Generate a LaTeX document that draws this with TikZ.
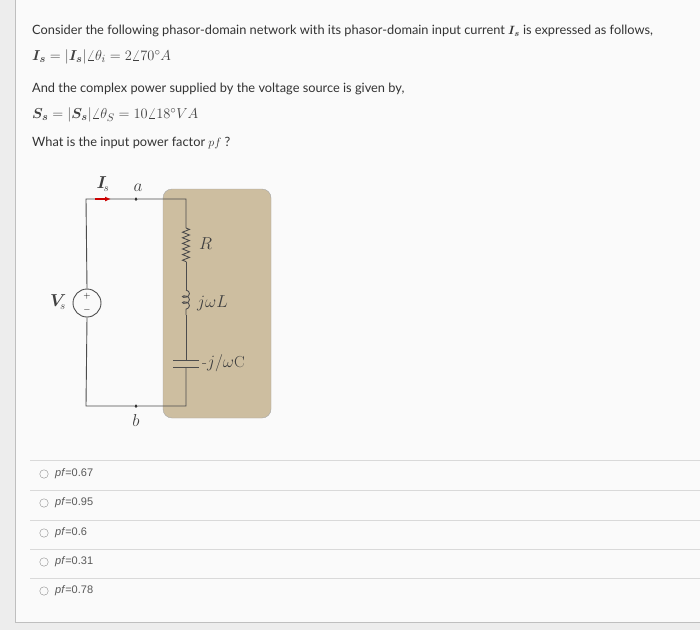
\documentclass[tikz,border=0pt]{standalone}
\usepackage{amsmath,bm}
\usepackage{fontspec}
\setsansfont{Lato}
\newfontfamily\optfont{Liberation Sans}
\usetikzlibrary{decorations.pathmorphing,arrows.meta}
\begin{document}
\begin{tikzpicture}[x=1pt,y=-1pt,
  prose/.style={anchor=west,inner sep=0,font=\sffamily\fontsize{12.8}{15}\selectfont,text=black!80},
  eq/.style={anchor=west,inner sep=0,font=\fontsize{15}{17}\selectfont,text=black!75},
  wire/.style={draw=black!70,line width=0.9pt},
  lbl/.style={inner sep=0,font=\fontsize{16}{18}\selectfont,text=black!75},
  opt/.style={anchor=west,inner sep=0,font=\optfont\fontsize{11}{13}\selectfont,text=black!65},
  sep/.style={draw=black!15,line width=0.6pt},
  dot/.style={circle,fill=black!80,inner sep=0,minimum size=3.5pt}]
\useasboundingbox (0,0) rectangle (700,630);
\fill[black!7] (0,0) rectangle (700,630);
\fill[black!2] (15,0) rectangle (700,622);
\draw[black!25] (15,0) -- (15,622) -- (700,622);
% prose
\node[prose] (t1) at (32,31) {Consider the following phasor-domain network with its phasor-domain input current $\bm{I_s}$ is expressed as follows,};
\node[eq] (t2) at (32,57) {$\bm{I_s} = |\bm{I_s}|\angle\theta_i = 2\angle 70^\circ A$};
\node[prose] (t3) at (32,89) {And the complex power supplied by the voltage source is given by,};
\node[eq] (t4) at (32,115) {$\bm{S_s} = |\bm{S_s}|\angle\theta_S = 10\angle 18^\circ V A$};
\node[prose] (t5) at (32,143) {What is the input power factor $pf$ ?};
% load box
\fill[rounded corners=9pt,fill={rgb,255:red,205;green,190;blue,160},draw=black!35] (163,189) rectangle (271,418);
% circuit
\coordinate (tl) at (86,199);
\coordinate (tr) at (186,199);
\coordinate (bl) at (86,406);
\coordinate (br) at (186,406);
\node[circle,draw=black!70,line width=0.9pt,minimum size=28pt,inner sep=0] (src) at (87,303) {};
\node[inner sep=0,font=\small] at (87,296) {$+$};
\node[inner sep=0,font=\small] at (87,310) {$-$};
\node[dot] (a) at (136,199) {};
\node[dot] (b) at (136,406) {};
\coordinate (r1) at (186,228);
\coordinate (r2) at (186,262);
\coordinate (l1) at (186,290);
\coordinate (l2) at (186,315);
\coordinate (c1) at (186,360);
\coordinate (c2) at (186,367);
\draw[wire] (src.north) -- (tl) -- (a) -- (tr) -- (r1);
\draw[wire,decorate,decoration={zigzag,amplitude=3.5pt,segment length=5.6pt}] (r1) -- (r2);
\draw[wire] (r2) -- (l1);
\draw[wire,decorate,decoration={coil,aspect=0.6,amplitude=3.5pt,segment length=6pt}] (l1) -- (l2);
\draw[wire] (l2) -- (c1);
\draw[wire] (173,360) -- (199,360);
\draw[wire] (173,367) -- (199,367);
\draw[wire] (c2) -- (br) -- (b) -- (bl) -- (src.south);
\draw[-{Latex[length=6pt,width=5pt]},draw=red!80!black,line width=1.2pt] (95,199) -- (111,199);
\node[lbl] (Is) at (103,184) {$\bm{I}_{\!s}$};
\node[lbl] (la) at (138,188) {$a$};
\node[lbl] (lb) at (136,420) {$b$};
\node[lbl] (Vs) at (58,302) {$\bm{V}_{\!s}$};
\node[lbl,anchor=west] (lR) at (199,244) {$R$};
\node[lbl,anchor=west] (lL) at (197,303) {$j\omega L$};
\node[lbl,anchor=west] (lC) at (202,363) {-$j/\omega$C};
% options
\foreach \y in {460,490,520,549,578} \draw[sep] (30,\y) -- (700,\y);
\foreach [count=\i] \v/\y in {0.67/474,0.95/503,0.6/533,0.31/562,0.78/591}{
  \node[circle,draw=black!45,inner sep=0,minimum size=8.5pt] (o\i) at (44,\y) {};
  \node[opt] (ot\i) at (55,\y) {\textit{pf}=\v};
}
\end{tikzpicture}
\end{document}
